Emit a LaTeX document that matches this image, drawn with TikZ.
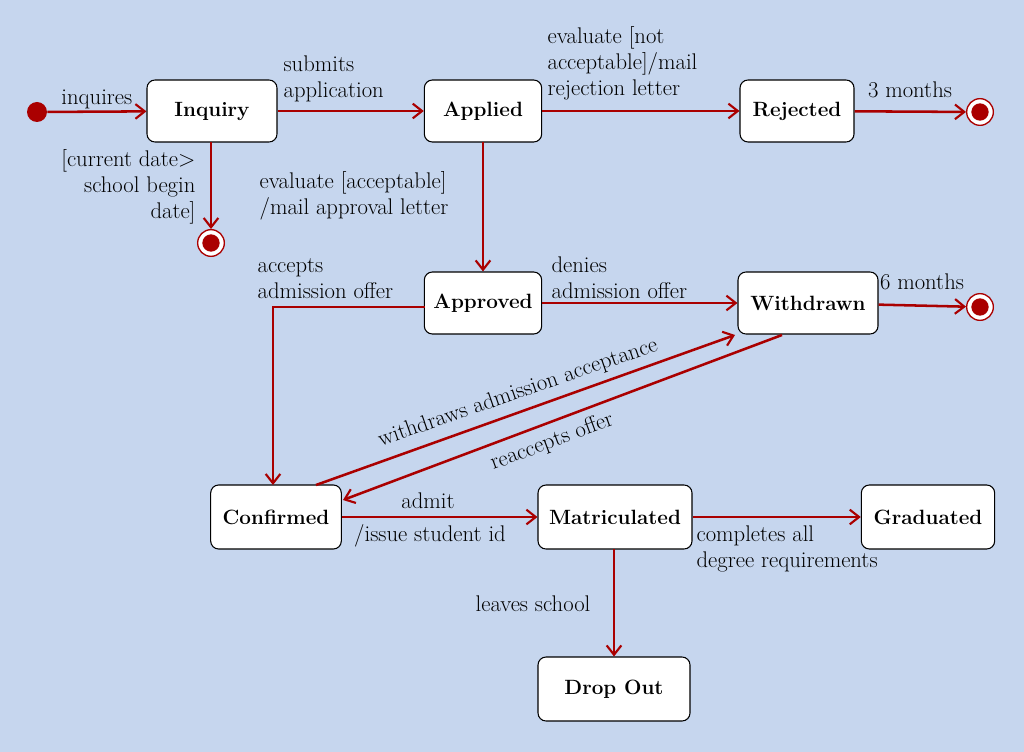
\documentclass[tikz,border=0pt]{standalone}
\usetikzlibrary{arrows.meta}
\begin{document}
\begin{tikzpicture}[x=0.75pt,y=-0.75pt,
  st/.style={draw=black,fill=white,rounded corners=6pt,line width=0.8pt,font=\fontsize{15.5}{18}\selectfont\bfseries,inner sep=0pt},
  ar/.style={draw=arc,line width=1.9pt,-{Straight Barb[length=7pt,width=11pt,line width=1.6pt]}},
  lb/.style={font=\fontsize{17}{19.5}\selectfont,inner sep=1pt,align=left},
  fin/.style={circle,draw=arc,fill=white,line width=1pt,minimum size=20pt,inner sep=0pt,path picture={\fill[arc](path picture bounding box.center) circle (6.5pt);}}]
\definecolor{arc}{RGB}{170,0,0}
\definecolor{bg}{RGB}{198,214,238}
\fill[bg] (0,0) rectangle (1024,752);
\useasboundingbox (0,0) rectangle (1024,752);
\node[st,minimum width=97.5pt,minimum height=46.5pt] (inq) at (212,111) {Inquiry};
\node[st,minimum width=88pt,minimum height=46.5pt] (app) at (483,111) {Applied};
\node[st,minimum width=85.5pt,minimum height=46.5pt] (rej) at (797,111) {Rejected};
\node[st,minimum width=88pt,minimum height=46.5pt] (apr) at (483,303) {Approved};
\node[st,minimum width=105pt,minimum height=46.5pt] (wd) at (808,303) {Withdrawn};
\node[st,minimum width=98pt,minimum height=48pt] (con) at (276,517) {Confirmed};
\node[st,minimum width=115.5pt,minimum height=48pt] (mat) at (615,517) {Matriculated};
\node[st,minimum width=100pt,minimum height=48pt] (gra) at (928,517) {Graduated};
\node[st,minimum width=114pt,minimum height=48pt] (drop) at (614,689) {Drop Out};
\node[circle,fill=arc,minimum size=15pt,inner sep=0pt] (init) at (37,112) {};
\node[fin] (f1) at (211,243) {};
\node[fin] (f2) at (980,112) {};
\node[fin] (f3) at (980,307) {};
\coordinate (cb) at (316,485); \coordinate (wb) at (735,335);
\coordinate (wb2) at (782,335); \coordinate (cr) at (343,500);
\coordinate (aw) at (425,307); \coordinate (ct) at (273,485);
\coordinate (i1) at (211,142); \coordinate (i2) at (483,142);
\coordinate (m1) at (614,549);
\draw[ar] (init) -- (inq) node[lb,midway,above] {inquires};
\draw[ar] (i1) -- (f1);
\node[lb,align=right,anchor=north east] at (197,148) {[current date\textgreater\\school begin\\date]};
\draw[ar] (inq) -- (app);
\node[lb,anchor=south west] at (282,104) {submits\\application};
\draw[ar] (app) -- (rej);
\node[lb,anchor=south west] at (546,102) {evaluate [not\\acceptable]/mail\\rejection letter};
\draw[ar] (rej) -- (f2);
\node[lb] at (910,90) {3 months};
\draw[ar] (i2) -- (apr);
\node[lb,anchor=north west] at (258,170) {evaluate [acceptable]\\/mail approval letter};
\draw[ar] (apr) -- (wd);
\node[lb,anchor=south west] at (550,300) {denies\\admission offer};
\draw[ar] (wd) -- (f3);
\node[lb] at (922,282) {6 months};
\draw[ar] (aw) -| (ct);
\node[lb,anchor=south west] at (256,300) {accepts\\admission offer};
\draw[ar] (cb) -- (wb);
\node[lb,rotate=19.1] at (518,393) {withdraws admission acceptance};
\draw[ar] (wb2) -- (cr);
\node[lb,rotate=20.4] at (552,442) {reaccepts offer};
\draw[ar] (con) -- (mat);
\node[lb] at (428,501) {admit};
\node[lb] at (430,536) {/issue student id};
\draw[ar] (mat) -- (gra);
\node[lb,anchor=north west] at (695,524) {completes all\\degree requirements};
\draw[ar] (m1) -- (drop);
\node[lb] at (533,604) {leaves school};
\end{tikzpicture}
\end{document}
